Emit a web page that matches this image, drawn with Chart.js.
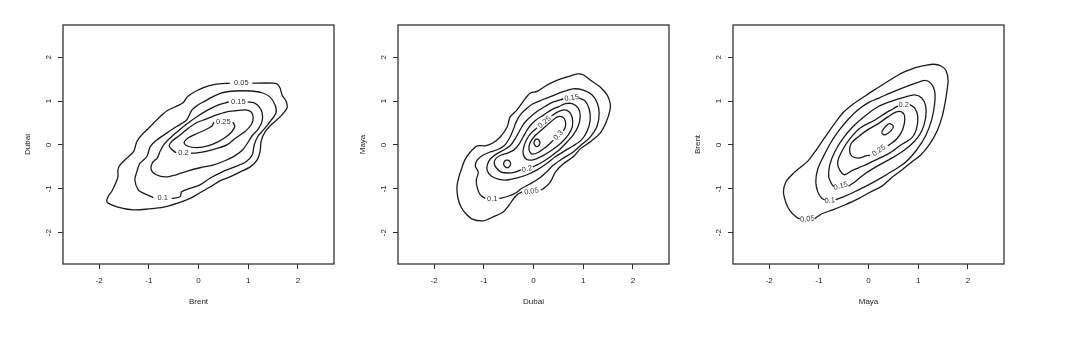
<!DOCTYPE html>
<html>
<head>
<meta charset="utf-8">
<title>Bivariate density contours</title>
<script src="https://cdn.jsdelivr.net/npm/chart.js@4"></script>
<style>
  body { margin: 0; background: #fff; width: 1080px; height: 338px; position: relative; overflow: hidden; }
  .panel { position: absolute; top: 0; width: 335px; height: 338px; }
</style>
</head>
<body>
<div class="panel" style="left:0"><canvas id="brentDubai" width="335" height="338"></canvas></div>
<div class="panel" style="left:335px"><canvas id="dubaiMaya" width="335" height="338"></canvas></div>
<div class="panel" style="left:670px"><canvas id="mayaBrent" width="335" height="338"></canvas></div>
<script>
// axis ticks shared by all three panels
const tickValues = [-2, -1, 0, 1, 2];

// ---- panel 1: Brent (x) vs Dubai (y), contour lines ----
const brentDubai05 = [[1.08,1.41],[1.50,1.41],[1.58,1.39],[1.64,1.30],[1.68,1.14],[1.76,1.00],[1.78,0.84],[1.64,0.64],[1.48,0.48],[1.34,0.30],[1.26,0.09],[1.24,-0.14],[1.18,-0.34],[1.04,-0.50],[0.83,-0.62],[0.63,-0.73],[0.43,-0.82],[0.23,-0.96],[0.03,-1.09],[-0.17,-1.22],[-0.43,-1.33],[-0.70,-1.42],[-1.00,-1.46],[-1.31,-1.48],[-1.64,-1.41],[-1.84,-1.30],[-1.82,-1.18],[-1.74,-1.05],[-1.68,-0.91],[-1.62,-0.73],[-1.62,-0.57],[-1.58,-0.46],[-1.44,-0.30],[-1.30,-0.14],[-1.24,0.08],[-1.14,0.23],[-1.04,0.34],[-0.91,0.49],[-0.77,0.65],[-0.63,0.78],[-0.43,0.89],[-0.31,0.96],[-0.23,1.09],[-0.11,1.19],[0.09,1.30],[0.33,1.38],[0.63,1.41]];
const brentDubai10 = [[-0.54,-1.22],[-0.37,-1.18],[-0.34,-1.07],[-0.17,-0.99],[0.03,-0.91],[0.23,-0.76],[0.47,-0.62],[0.73,-0.50],[0.95,-0.39],[1.08,-0.23],[1.12,0],[1.20,0.21],[1.32,0.36],[1.45,0.55],[1.56,0.73],[1.54,0.91],[1.44,1.09],[1.28,1.19],[1.04,1.23],[0.73,1.23],[0.47,1.19],[0.27,1.09],[0.13,1.00],[-0.01,0.91],[-0.13,0.80],[-0.24,0.57],[-0.44,0.42],[-0.64,0.27],[-0.84,0.11],[-0.97,-0.04],[-1.04,-0.27],[-1.18,-0.42],[-1.24,-0.61],[-1.28,-0.80],[-1.21,-1.03],[-1.11,-1.10],[-0.91,-1.20]];
const brentDubai15 = [[0.99,0.98],[1.12,0.96],[1.22,0.87],[1.28,0.73],[1.28,0.55],[1.20,0.36],[1.08,0.21],[0.99,0.05],[0.89,-0.11],[0.73,-0.25],[0.53,-0.36],[0.29,-0.46],[0.03,-0.52],[-0.21,-0.59],[-0.45,-0.68],[-0.67,-0.73],[-0.85,-0.68],[-0.95,-0.57],[-0.93,-0.41],[-0.83,-0.30],[-0.77,-0.14],[-0.69,0.02],[-0.57,0.16],[-0.41,0.32],[-0.21,0.50],[-0.01,0.66],[0.19,0.80],[0.39,0.91],[0.61,0.98]];
const brentDubai20 = [[-0.15,-0.19],[-0.03,-0.18],[0.17,-0.14],[0.37,-0.08],[0.57,0.00],[0.75,0.16],[0.93,0.30],[1.06,0.46],[1.10,0.62],[1.06,0.75],[0.95,0.80],[0.75,0.78],[0.55,0.75],[0.35,0.68],[0.15,0.59],[-0.05,0.50],[-0.23,0.36],[-0.39,0.21],[-0.53,0.09],[-0.59,-0.02],[-0.53,-0.11],[-0.45,-0.18]];
const brentDubai25 = [[0.69,0.52],[0.73,0.43],[0.67,0.30],[0.55,0.18],[0.39,0.07],[0.19,-0.02],[-0.03,-0.06],[-0.21,-0.03],[-0.29,0.05],[-0.21,0.16],[-0.05,0.25],[0.13,0.34],[0.27,0.43],[0.31,0.52]];
// contour labels: text, x, y, angle
const brentDubaiLabels = [['0.05',0.86,1.41,0],['0.1',-0.72,-1.21,0],['0.15',0.80,0.98,0],['0.2',-0.30,-0.19,0],['0.25',0.50,0.53,0]];

// ---- panel 2: Dubai (x) vs Maya (y) ----
const dubaiMaya05 = [[0.15,-1.03],[0.24,-0.96],[0.34,-0.84],[0.44,-0.62],[0.60,-0.43],[0.80,-0.27],[0.94,-0.09],[1.14,0.07],[1.34,0.27],[1.46,0.52],[1.54,0.80],[1.54,0.96],[1.48,1.14],[1.34,1.32],[1.14,1.48],[1.00,1.60],[0.88,1.62],[0.68,1.55],[0.48,1.48],[0.28,1.37],[0.07,1.22],[-0.07,1.18],[-0.21,0.99],[-0.33,0.80],[-0.47,0.64],[-0.53,0.41],[-0.67,0.18],[-0.81,0.05],[-0.97,-0.02],[-1.13,-0.02],[-1.27,-0.16],[-1.38,-0.34],[-1.44,-0.52],[-1.50,-0.73],[-1.54,-0.96],[-1.52,-1.21],[-1.46,-1.41],[-1.36,-1.57],[-1.23,-1.69],[-1.01,-1.73],[-0.81,-1.64],[-0.61,-1.53],[-0.49,-1.37],[-0.39,-1.21],[-0.31,-1.12],[-0.23,-1.07]];
const dubaiMaya10 = [[-0.69,-1.22],[-0.51,-1.17],[-0.35,-1.09],[-0.25,-1.00],[-0.07,-0.89],[0.13,-0.75],[0.26,-0.62],[0.40,-0.46],[0.60,-0.30],[0.80,-0.16],[0.98,0.02],[1.14,0.18],[1.28,0.43],[1.32,0.73],[1.28,0.96],[1.18,1.14],[1.00,1.25],[0.80,1.28],[0.58,1.21],[0.38,1.12],[0.18,1.03],[-0.01,0.94],[-0.15,0.82],[-0.27,0.68],[-0.35,0.52],[-0.41,0.34],[-0.49,0.14],[-0.59,-0.02],[-0.73,-0.11],[-0.87,-0.16],[-1.01,-0.23],[-1.13,-0.34],[-1.17,-0.48],[-1.11,-0.62],[-1.15,-0.80],[-1.13,-0.98],[-1.07,-1.14],[-0.97,-1.22]];
const dubaiMaya15 = [[0.92,1.07],[1.04,1.00],[1.12,0.82],[1.14,0.57],[1.08,0.32],[0.96,0.11],[0.80,-0.02],[0.62,-0.14],[0.44,-0.27],[0.26,-0.43],[0.07,-0.57],[-0.13,-0.68],[-0.33,-0.75],[-0.53,-0.80],[-0.71,-0.78],[-0.85,-0.71],[-0.93,-0.59],[-0.93,-0.46],[-0.87,-0.32],[-0.75,-0.21],[-0.59,-0.11],[-0.47,-0.02],[-0.37,0.14],[-0.29,0.30],[-0.21,0.46],[-0.11,0.59],[0.03,0.73],[0.22,0.87],[0.40,0.98],[0.60,1.05]];
const dubaiMaya20 = [[-0.01,-0.50],[0.18,-0.39],[0.36,-0.25],[0.52,-0.11],[0.66,0.05],[0.80,0.23],[0.90,0.43],[0.94,0.66],[0.90,0.84],[0.78,0.94],[0.64,0.94],[0.50,0.87],[0.36,0.80],[0.20,0.68],[0.05,0.57],[-0.05,0.46],[-0.13,0.34],[-0.21,0.18],[-0.29,0.02],[-0.39,-0.11],[-0.51,-0.18],[-0.65,-0.23],[-0.75,-0.30],[-0.79,-0.41],[-0.75,-0.52],[-0.65,-0.62],[-0.51,-0.64],[-0.37,-0.62],[-0.25,-0.57]];
const dubaiMaya25 = [[0.36,0.66],[0.48,0.75],[0.62,0.80],[0.72,0.75],[0.78,0.62],[0.78,0.41],[0.70,0.23],[0.56,0.05],[0.38,-0.11],[0.18,-0.25],[-0.01,-0.34],[-0.15,-0.32],[-0.21,-0.18],[-0.19,-0.02],[-0.13,0.14],[-0.05,0.27],[0.07,0.39]];
const dubaiMaya25b = [[-0.53,-0.34],[-0.48,-0.37],[-0.46,-0.43],[-0.48,-0.49],[-0.53,-0.52],[-0.58,-0.49],[-0.60,-0.43],[-0.58,-0.37],[-0.53,-0.34]];
const dubaiMaya30 = [[0.40,0.11],[0.28,-0.02],[0.11,-0.16],[-0.03,-0.21],[-0.09,-0.11],[-0.07,0.05],[0.03,0.21],[0.18,0.36],[0.34,0.52],[0.48,0.64],[0.58,0.64],[0.64,0.55],[0.64,0.41],[0.60,0.32]];
const dubaiMaya35 = [[0.07,0.14],[0.11,0.11],[0.13,0.05],[0.11,-0.01],[0.07,-0.04],[0.03,-0.01],[0.01,0.05],[0.03,0.11],[0.07,0.14]];
const dubaiMayaLabels = [['0.05',-0.04,-1.06,-10],['0.1',-0.83,-1.22,0],['0.15',0.77,1.07,-8],['0.2',-0.13,-0.55,-12],['0.25',0.22,0.52,-40],['0.3',0.50,0.22,-45]];

// ---- panel 3: Maya (x) vs Brent (y) ----
const mayaBrent05 = [[-1.08,-1.68],[-0.94,-1.57],[-0.72,-1.48],[-0.48,-1.37],[-0.21,-1.23],[0.03,-1.08],[0.27,-0.94],[0.47,-0.74],[0.67,-0.57],[0.87,-0.39],[1.05,-0.23],[1.23,0.02],[1.38,0.32],[1.48,0.64],[1.54,0.96],[1.58,1.25],[1.60,1.48],[1.56,1.69],[1.46,1.80],[1.31,1.84],[1.13,1.81],[0.93,1.76],[0.73,1.67],[0.53,1.55],[0.31,1.39],[0.11,1.25],[-0.09,1.10],[-0.30,0.94],[-0.50,0.75],[-0.66,0.52],[-0.80,0.30],[-0.94,0.07],[-1.08,-0.16],[-1.22,-0.37],[-1.38,-0.52],[-1.54,-0.68],[-1.66,-0.84],[-1.71,-1.07],[-1.66,-1.32],[-1.58,-1.50],[-1.46,-1.64],[-1.38,-1.69]];
const mayaBrent10 = [[-0.66,-1.25],[-0.52,-1.19],[-0.32,-1.09],[-0.05,-0.94],[0.21,-0.78],[0.49,-0.59],[0.75,-0.39],[0.97,-0.11],[1.15,0.21],[1.27,0.57],[1.33,0.94],[1.33,1.23],[1.25,1.41],[1.13,1.47],[0.95,1.41],[0.73,1.32],[0.49,1.21],[0.23,1.08],[-0.01,0.96],[-0.21,0.80],[-0.42,0.57],[-0.60,0.32],[-0.76,0.05],[-0.90,-0.25],[-1.02,-0.55],[-1.06,-0.84],[-1.02,-1.07],[-0.94,-1.22],[-0.88,-1.25]];
const mayaBrent15 = [[-0.40,-0.94],[-0.25,-0.82],[-0.05,-0.64],[0.21,-0.46],[0.47,-0.30],[0.73,-0.11],[0.93,0.09],[1.07,0.32],[1.15,0.62],[1.15,0.89],[1.07,1.07],[0.93,1.14],[0.73,1.09],[0.47,1.00],[0.19,0.87],[-0.07,0.66],[-0.32,0.41],[-0.52,0.14],[-0.68,-0.16],[-0.78,-0.46],[-0.80,-0.73],[-0.74,-0.89],[-0.70,-0.95]];
const mayaBrent20 = [[0.83,0.92],[0.93,0.84],[0.99,0.66],[0.97,0.39],[0.87,0.16],[0.65,0.00],[0.43,-0.18],[0.15,-0.34],[-0.11,-0.48],[-0.34,-0.59],[-0.48,-0.68],[-0.58,-0.57],[-0.62,-0.39],[-0.52,-0.11],[-0.36,0.16],[-0.16,0.39],[0.13,0.57],[0.35,0.73],[0.49,0.82],[0.59,0.89]];
const mayaBrent25 = [[0.39,-0.02],[0.57,0.14],[0.69,0.36],[0.73,0.62],[0.67,0.75],[0.55,0.75],[0.39,0.64],[0.19,0.48],[-0.05,0.32],[-0.21,0.18],[-0.34,0.05],[-0.38,-0.11],[-0.34,-0.25],[-0.21,-0.30],[-0.05,-0.25],[0.03,-0.23]];
const mayaBrent30 = [[0.43,0.49],[0.50,0.43],[0.45,0.32],[0.33,0.23],[0.27,0.27],[0.30,0.36],[0.39,0.47],[0.43,0.49]];
const mayaBrentLabels = [['0.05',-1.23,-1.69,-5],['0.1',-0.78,-1.27,-5],['0.15',-0.56,-0.94,-15],['0.2',0.71,0.92,0],['0.25',0.21,-0.13,-35]];

const FONT = '"Liberation Sans", Arial, "DejaVu Sans", sans-serif';
const INK = '#1a1a1a';

function makePanel(canvasId, xTitle, yTitle, contours, labels) {
  const frame = {
    id: 'frame',
    afterDraw(chart) {
      const ctx = chart.ctx;
      const area = chart.chartArea;
      const xs = chart.scales.x, ys = chart.scales.y;
      ctx.save();
      // box round the plot region
      ctx.strokeStyle = '#333';
      ctx.lineWidth = 1.3;
      ctx.strokeRect(area.left, area.top, area.right - area.left, area.bottom - area.top);

      ctx.fillStyle = INK;
      ctx.font = '8px ' + FONT;
      ctx.textAlign = 'center';
      ctx.textBaseline = 'middle';
      xs.ticks.forEach(t => ctx.fillText(String(t.value), xs.getPixelForValue(t.value), area.bottom + 16.5));
      ys.ticks.forEach(t => {
        ctx.save();
        ctx.translate(area.left - 14, ys.getPixelForValue(t.value));
        ctx.rotate(-Math.PI / 2);
        ctx.fillText(String(t.value), 0, 0);
        ctx.restore();
      });

      // axis titles
      ctx.fillText(xTitle, (area.left + area.right) / 2, area.bottom + 38);
      ctx.save();
      ctx.translate(area.left - 35, (area.top + area.bottom) / 2);
      ctx.rotate(-Math.PI / 2);
      ctx.fillText(yTitle, 0, 0);
      ctx.restore();

      // contour level labels sit in the gaps of their lines
      ctx.font = '7.5px ' + FONT;
      ctx.fillStyle = '#333';
      labels.forEach(l => {
        ctx.save();
        ctx.translate(xs.getPixelForValue(l[1]), ys.getPixelForValue(l[2]));
        ctx.rotate(l[3] * Math.PI / 180);
        ctx.fillText(l[0], 0, 0);
        ctx.restore();
      });
      ctx.restore();
    }
  };

  const axis = (min, max, fit) => ({
    type: 'linear',
    min: min,
    max: max,
    afterBuildTicks: s => { s.ticks = tickValues.map(v => ({ value: v })); },
    afterFit: fit,
    grid: { drawOnChartArea: false, drawTicks: true, tickLength: 5, color: '#333', lineWidth: 1 },
    border: { display: false },
    ticks: { display: false }
  });

  return new Chart(document.getElementById(canvasId), {
    type: 'scatter',
    data: {
      datasets: contours.map(c => ({
        label: c[0],
        data: c[1].map(p => ({ x: p[0], y: p[1] })),
        showLine: true,
        pointRadius: 0,
        borderColor: INK,
        borderWidth: 1.3,
        tension: 0.3,
        fill: false
      }))
    },
    options: {
      responsive: false,
      animation: false,
      layout: { padding: { top: 25, right: 1, left: 0, bottom: 0 } },
      plugins: { legend: { display: false }, tooltip: { enabled: false } },
      scales: {
        x: axis(-2.725, 2.725, s => { s.height = 74; }),
        y: axis(-2.715, 2.735, s => { s.width = 63; })
      }
    },
    plugins: [frame]
  });
}

makePanel('brentDubai', 'Brent', 'Dubai',
  [['0.05', brentDubai05], ['0.1', brentDubai10], ['0.15', brentDubai15], ['0.2', brentDubai20], ['0.25', brentDubai25]],
  brentDubaiLabels);

makePanel('dubaiMaya', 'Dubai', 'Maya',
  [['0.05', dubaiMaya05], ['0.1', dubaiMaya10], ['0.15', dubaiMaya15], ['0.2', dubaiMaya20],
   ['0.25', dubaiMaya25], ['0.25', dubaiMaya25b], ['0.3', dubaiMaya30], ['0.35', dubaiMaya35]],
  dubaiMayaLabels);

makePanel('mayaBrent', 'Maya', 'Brent',
  [['0.05', mayaBrent05], ['0.1', mayaBrent10], ['0.15', mayaBrent15], ['0.2', mayaBrent20],
   ['0.25', mayaBrent25], ['0.3', mayaBrent30]],
  mayaBrentLabels);
</script>
</body>
</html>
